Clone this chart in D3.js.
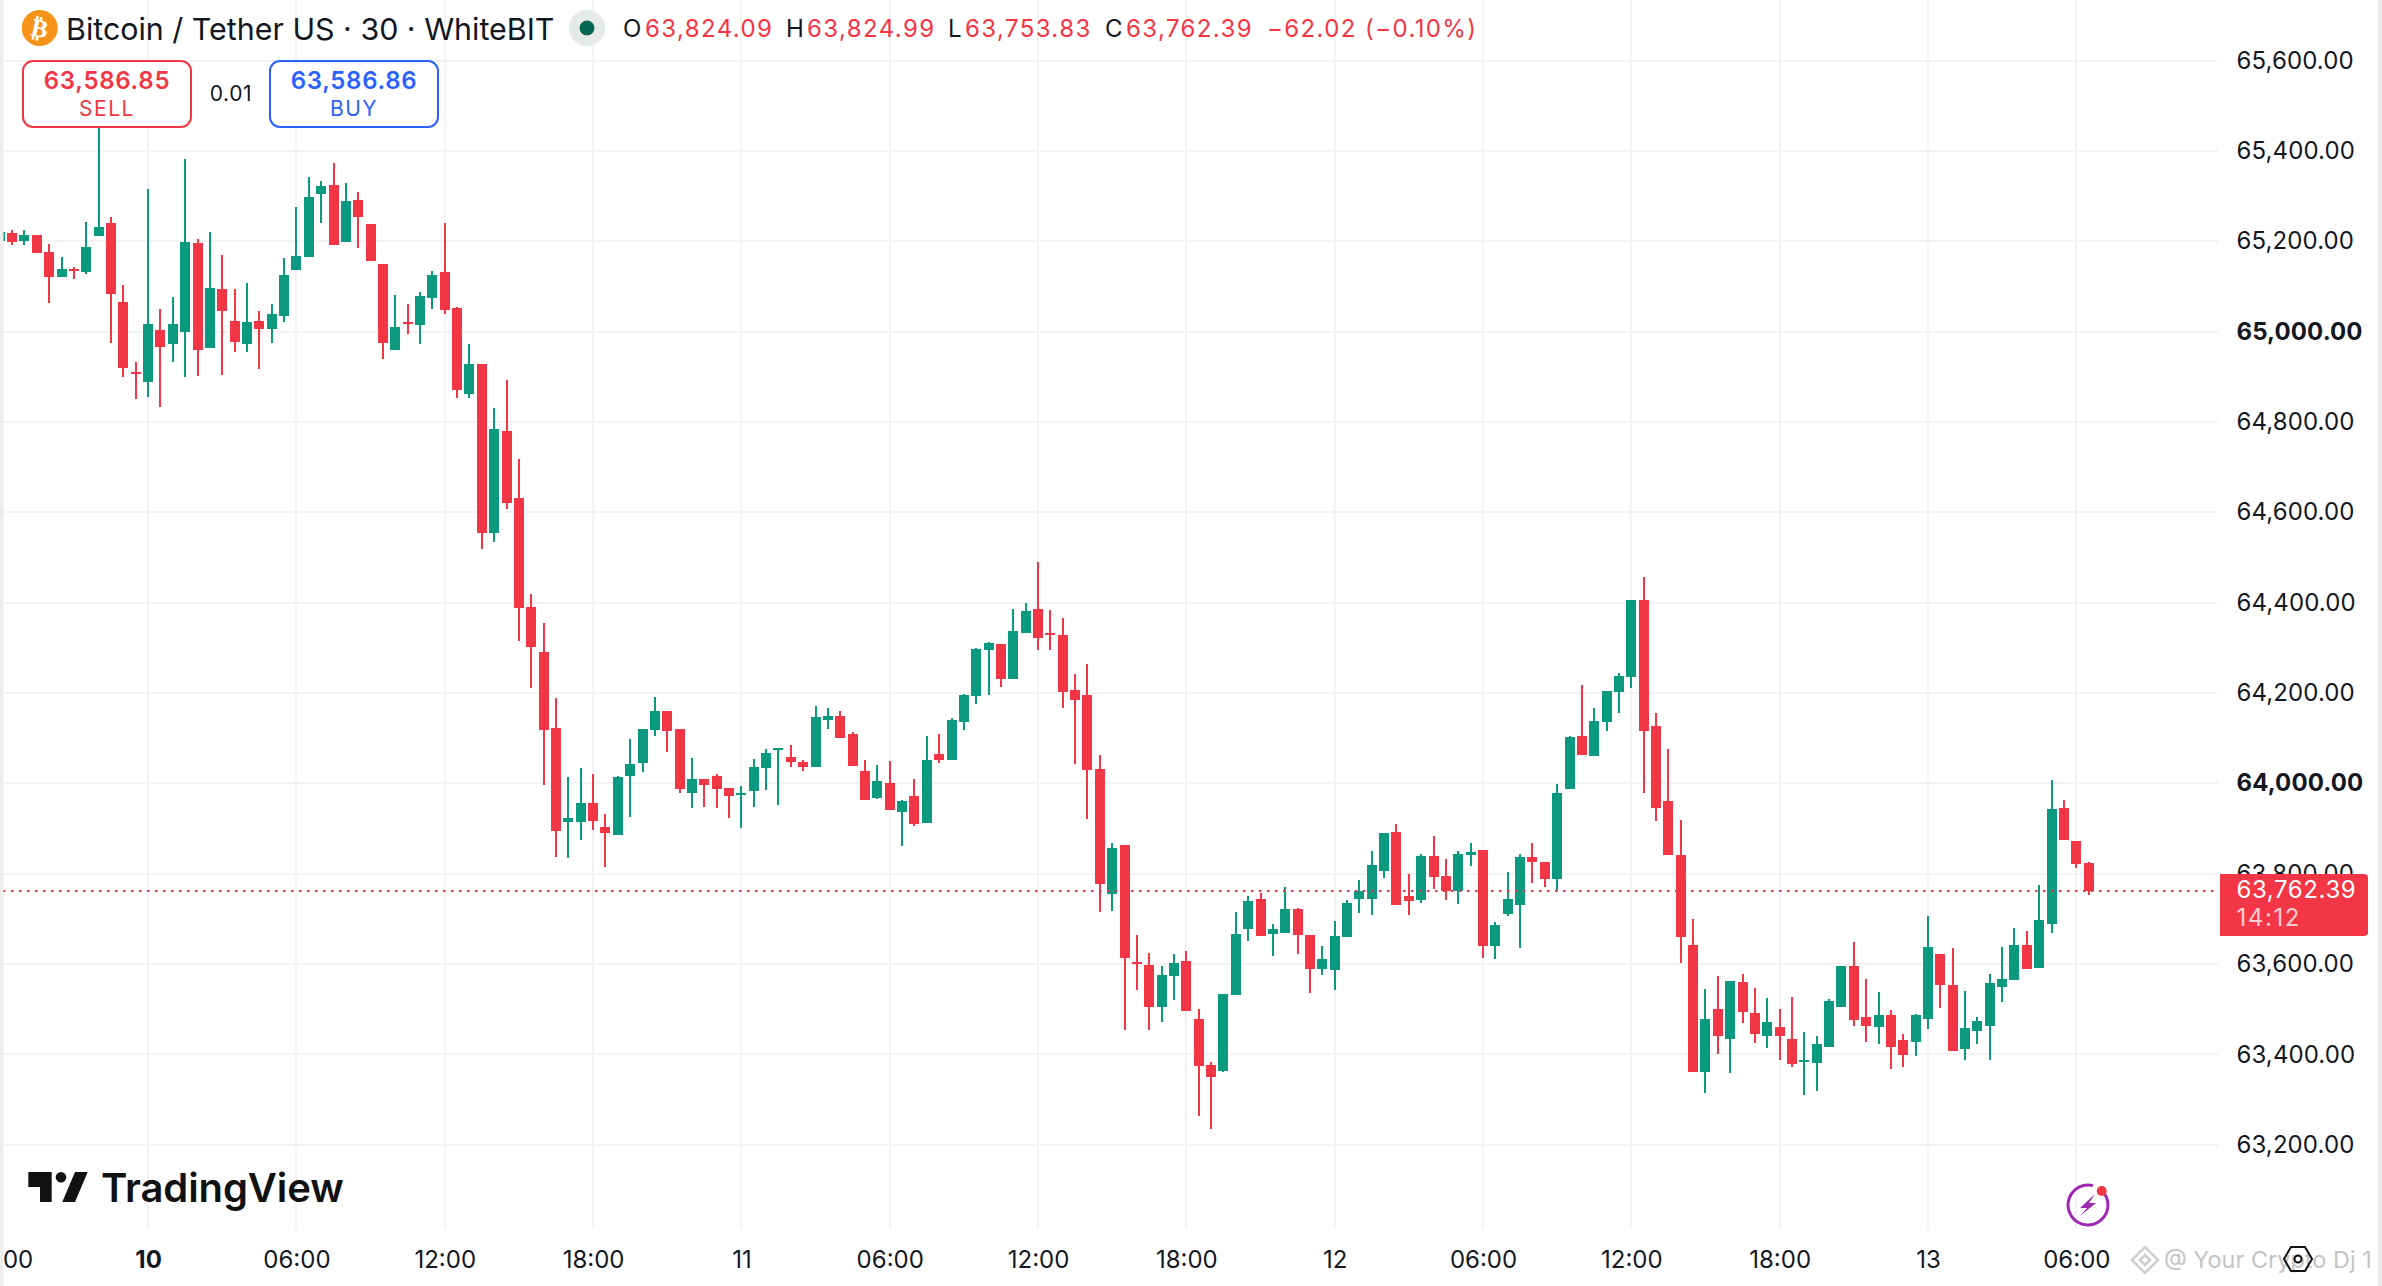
<!DOCTYPE html>
<html lang="en">
<head>
<meta charset="UTF-8">
<title>Bitcoin / Tether US 30 WhiteBIT</title>
<script src="https://d3js.org/d3.v7.min.js"></script>
<style>
    body { margin: 0; background: #fff; }
    svg { display: block; font-family: Inter, "Noto Sans", sans-serif; }
</style>
</head>
<body>
<div id="chart"></div>
<script>
// candle numbers: 0 is the 00:00 bar of the 10th, bars are 30 minutes
const candleNo = d3.range(-12, 158);

const opens = [
    65201,65218,65200,65214,65176,65121,65139,65132,65211,65240,65065,64910,
    64888,65003,64972,64999,65196,64964,65094,65023,64972,65023,65006,65034,
    65136,65165,65304,65324,65198,65291,65238,65150,64959,65022,65014,65074,
    65132,65052,64862,64928,64554,64780,64632,64390,64291,64122,63914,63914,
    63956,63903,63886,64016,64045,64118,64160,64120,63979,64010,64016,63990,
    63974,63983,64034,64074,64058,64047,64036,64140,64149,64109,64027,63967,
    64001,63936,63972,63912,64065,64052,64136,64193,64295,64308,64231,64333,
    64386,64333,64328,64207,64195,64032,63755,63863,63604,63598,63505,63573,
    63607,63478,63376,63363,63531,63678,63744,63666,63669,63722,63664,63589,
    63587,63660,63744,63744,63806,63892,63751,63742,63839,63795,63762,63841,
    63852,63640,63711,63731,63837,63826,63788,63988,64105,64060,64135,64202,
    64235,64406,64127,63961,63841,63642,63361,63501,63434,63560,63492,63440,
    63460,63434,63383,63381,63416,63505,63595,63482,63460,63487,63432,63427,
    63478,63622,63554,63412,63452,63463,63549,63565,63642,63591,63689,63946,
    63872,63824.09
];
const highs = [
    65221,65225,65225,65214,65194,65165,65143,65243,65457,65254,65103,64933,
    65316,65050,65076,65382,65205,65220,65169,65094,65107,65045,65061,65163,
    65276,65342,65333,65373,65329,65309,65238,65150,65081,65061,65088,65134,
    65240,65054,64972,64928,64831,64893,64718,64419,64355,64189,64014,64034,
    64021,63932,64016,64098,64120,64191,64160,64120,64056,64010,64021,63990,
    63994,64054,64076,64078,64085,64052,64171,64167,64160,64114,64052,64041,
    64049,63963,64010,64105,64109,64145,64198,64300,64313,64308,64386,64399,
    64490,64384,64366,64242,64264,64063,63868,63863,63664,63624,63596,63622,
    63629,63500,63383,63534,63715,63751,63757,63689,63770,63724,63664,63640,
    63695,63742,63786,63850,63890,63910,63799,63844,63883,63832,63850,63868,
    63852,63693,63804,63844,63868,63826,63998,64105,64218,64167,64204,64245,
    64406,64456,64156,64076,63919,63700,63545,63573,63562,63578,63547,63525,
    63501,63527,63449,63440,63523,63595,63648,63567,63538,63498,63445,63490,
    63706,63622,63636,63540,63482,63578,63637,63680,63673,63775,64007,63963,
    63872,63824.99
];
const lows = [
    65201,65192,65192,65174,65063,65121,65116,65127,65211,64975,64899,64851,
    64855,64833,64933,64899,64902,64964,64904,64955,64955,64917,64975,65021,
    65136,65165,65240,65192,65198,65185,65156,64939,64959,64995,64972,65050,
    65039,64853,64853,64519,64534,64607,64315,64211,63996,63837,63835,63874,
    63897,63815,63886,63925,64025,64105,64069,63979,63945,63948,63945,63923,
    63901,63948,63985,63952,64036,64027,64036,64120,64100,64038,63963,63965,
    63941,63861,63905,63912,64045,64052,64118,64176,64195,64213,64231,64333,
    64295,64295,64167,64043,63921,63715,63717,63454,63542,63454,63472,63520,
    63496,63264,63235,63361,63531,63651,63662,63618,63669,63622,63536,63576,
    63542,63660,63713,63709,63790,63731,63709,63735,63766,63742,63733,63817,
    63613,63611,63706,63635,63779,63770,63762,63988,64063,64060,64116,64156,
    64211,63979,63916,63841,63603,63361,63315,63401,63359,63470,63425,63414,
    63388,63372,63310,63319,63416,63505,63463,63427,63423,63368,63372,63396,
    63456,63503,63407,63388,63423,63388,63516,63565,63589,63591,63669,63875,
    63813,63753.83
];
const closes = [
    65221,65198,65214,65174,65121,65138,65136,65187,65231,65083,64919,64906,
    65017,64966,65017,65198,64959,65096,65045,64977,65021,65006,65039,65125,
    65167,65298,65322,65192,65289,65254,65156,64975,65010,65017,65079,65125,
    65048,64871,64928,64554,64784,64620,64388,64302,64118,63894,63923,63956,
    63917,63890,64014,64043,64120,64160,64116,63987,64010,63996,63987,63972,
    63979,64036,64067,64078,64047,64036,64147,64149,64100,64038,63963,64005,
    63941,63961,63910,64052,64052,64140,64195,64297,64311,64231,64337,64381,
    64322,64328,64202,64184,64029,63777,63857,63613,63600,63505,63576,63602,
    63496,63374,63350,63534,63666,63739,63662,63678,63722,63664,63589,63611,
    63662,63735,63762,63819,63890,63731,63739,63839,63793,63762,63844,63848,
    63640,63686,63744,63837,63826,63788,63979,64102,64063,64138,64204,64237,
    64406,64116,63946,63841,63659,63361,63478,63440,63562,63493,63445,63471,
    63440,63379,63388,63423,63518,63595,63476,63463,63487,63416,63399,63487,
    63637,63554,63407,63459,63474,63558,63567,63642,63589,63697,63943,63875,
    63822,63762.39
];

const priceTicks = [65600,65400,65200,65000,64800,64600,64400,64200,64000,63800,63600,63400,63200];
const boldPrices = [65000, 64000];
const timeTicks = [-12,0,12,24,36,48,60,72,84,96,108,120,132,144,156];
const timeLabels = ['18:00','10','06:00','12:00','18:00','11','06:00','12:00','18:00','12','06:00','12:00','18:00','13','06:00'];
const lastPrice = 63762.39;

const headerTitle = 'Bitcoin / Tether US · 30 · WhiteBIT';
const ohlcLabels = ['O', 'H', 'L', 'C'];
const ohlcValues = ['63,824.09', '63,824.99', '63,753.83', '63,762.39'];
const ohlcChange = '−62.02 (−0.10%)';

const RED = '#F23645', GREEN = '#0B9A80', BLUE = '#2962FF', GRID = '#F3F3F3', INK = '#131722';

const svg = d3.select('#chart').append('svg')
    .attr('width', 2382)
    .attr('height', 1286);

const x = d3.scaleLinear().domain([0, 156]).range([148.1, 2076.3]);
const y = d3.scaleLinear().domain([63200, 65600]).range([1144.7, 60.5]);

// grid
const grid = svg.append('g').attr('shape-rendering', 'crispEdges').attr('stroke', GRID).attr('stroke-width', 2);
grid.selectAll('.v').data(timeTicks).enter().append('line')
    .attr('x1', d => Math.round(x(d))).attr('x2', d => Math.round(x(d)))
    .attr('y1', 0).attr('y2', 1229);
grid.selectAll('.h').data(priceTicks).enter().append('line')
    .attr('x1', 3).attr('x2', 2218)
    .attr('y1', d => Math.round(y(d))).attr('y2', d => Math.round(y(d)));

// candles
const candles = svg.append('g').attr('shape-rendering', 'crispEdges');
const colour = i => closes[i] < opens[i] ? RED : GREEN;
candles.selectAll('.wick').data(candleNo).enter().append('rect')
    .attr('x', d => Math.round(x(d)) - 1)
    .attr('width', 2)
    .attr('y', (d, i) => y(highs[i]))
    .attr('height', (d, i) => y(lows[i]) - y(highs[i]))
    .attr('fill', (d, i) => colour(i));
candles.selectAll('.body').data(candleNo).enter().append('rect')
    .attr('x', d => Math.round(x(d)) - 5)
    .attr('width', 10)
    .attr('y', (d, i) => y(Math.max(opens[i], closes[i])))
    .attr('height', (d, i) => Math.max(2, Math.abs(y(opens[i]) - y(closes[i]))))
    .attr('fill', (d, i) => colour(i));

// last price line
svg.append('line')
    .attr('x1', 3).attr('x2', 2218)
    .attr('y1', Math.round(y(lastPrice))).attr('y2', Math.round(y(lastPrice)))
    .attr('stroke', RED).attr('stroke-width', 2).attr('stroke-dasharray', '2.5 5.5');

// price axis
const yAxis = svg.append('g')
    .attr('transform', 'translate(2236.5,0)')
    .call(d3.axisRight(y).tickValues(priceTicks).tickSize(0).tickPadding(0).tickFormat(d3.format(',.2f')));
yAxis.select('.domain').remove();
yAxis.selectAll('text')
    .attr('font-family', 'Inter, sans-serif')
    .attr('font-size', 24)
    .attr('letter-spacing', 0.1)
    .attr('fill', INK)
    .attr('font-weight', d => boldPrices.includes(d) ? 700 : 400);

// last price tag sits over the 63,800 label
svg.append('path')
    .attr('d', 'M2220,874H2364a4,4 0 0 1 4,4V932a4,4 0 0 1 -4,4H2220Z')
    .attr('fill', RED);
svg.append('text').attr('x', 2236.5).attr('y', 898).text(d3.format(',.2f')(lastPrice))
    .attr('font-size', 24).attr('letter-spacing', 0.6).attr('fill', '#fff');
svg.append('text').attr('x', 2236.5).attr('y', 926).text('14:12')
    .attr('font-size', 24).attr('letter-spacing', 1.6).attr('fill', '#fff').attr('fill-opacity', 0.75);

// time axis, its left end is cut by the frame
svg.append('clipPath').attr('id', 'time-clip').append('rect')
    .attr('x', 4).attr('y', 1230).attr('width', 2378).attr('height', 56);
const xAxis = svg.append('g')
    .attr('clip-path', 'url(#time-clip)')
    .append('g')
    .attr('transform', 'translate(0,1251)')
    .call(d3.axisBottom(x).tickValues(timeTicks).tickSize(0).tickPadding(0)
        .tickFormat(d => timeLabels[timeTicks.indexOf(d)]));
xAxis.select('.domain').remove();
xAxis.selectAll('text')
    .attr('font-family', 'Inter, sans-serif')
    .attr('font-size', 24)
    .attr('fill', INK)
    .attr('font-weight', d => d === 0 ? 700 : 400);
// the cut label ends a little further right in the picture
xAxis.selectAll('.tick').filter(d => d === -12).select('text').attr('dx', 2);

// frame
svg.append('rect').attr('x', 0).attr('y', 0).attr('width', 3.5).attr('height', 1286).attr('fill', '#EDEDED');
svg.append('rect').attr('x', 2378).attr('y', 0).attr('width', 4).attr('height', 1286).attr('fill', '#EDEDED');

// header
svg.append('circle').attr('cx', 39.7).attr('cy', 28).attr('r', 18).attr('fill', '#F7931A');
svg.append('text').attr('x', 39.7).attr('y', 37).attr('text-anchor', 'middle').text('₿')
    .attr('font-family', 'DejaVu Sans').attr('font-weight', 700).attr('font-size', 25).attr('fill', '#fff')
    .attr('transform', 'rotate(12 39.7 28)');
svg.append('text').attr('x', 66).attr('y', 40).text(headerTitle)
    .attr('font-size', 30.4).attr('fill', INK);
svg.append('ellipse').attr('cx', 587).attr('cy', 28).attr('rx', 18).attr('ry', 18).attr('fill', '#E6EBEA');
svg.append('circle').attr('cx', 587).attr('cy', 28).attr('r', 7.5).attr('fill', '#056656');

const ohlcLetterX = [623, 786, 948, 1105];
const ohlcValueX = [645, 807, 965, 1126];
ohlcLabels.forEach((d, i) => {
    svg.append('text').attr('x', ohlcLetterX[i]).attr('y', 37).text(d).attr('font-size', 24).attr('fill', INK);
    svg.append('text').attr('x', ohlcValueX[i]).attr('y', 37).text(ohlcValues[i])
        .attr('font-size', 24).attr('letter-spacing', 1.4).attr('fill', RED);
});
svg.append('text').attr('x', 1267).attr('y', 37).text(ohlcChange)
    .attr('font-size', 24).attr('letter-spacing', 1.4).attr('fill', RED);

// sell / buy boxes
const boxes = [
    { x: 23, w: 168, colour: RED, price: '63,586.85', side: 'SELL' },
    { x: 270, w: 168, colour: BLUE, price: '63,586.86', side: 'BUY' }
];
boxes.forEach(b => {
    svg.append('rect').attr('x', b.x).attr('y', 61).attr('width', b.w).attr('height', 66).attr('rx', 10)
        .attr('fill', '#fff').attr('stroke', b.colour).attr('stroke-width', 2);
    svg.append('text').attr('x', b.x + b.w / 2).attr('y', 89).attr('text-anchor', 'middle').text(b.price)
        .attr('font-size', 24).attr('font-weight', 600).attr('letter-spacing', 0.7).attr('fill', b.colour);
    svg.append('text').attr('x', b.x + b.w / 2).attr('y', 116).attr('text-anchor', 'middle').text(b.side)
        .attr('font-size', 21).attr('letter-spacing', 1.5).attr('fill', b.colour);
});
svg.append('text').attr('x', 231).attr('y', 101).attr('text-anchor', 'middle').text('0.01')
    .attr('font-size', 21).attr('letter-spacing', 0.6).attr('fill', INK);

// TradingView logo
const logo = svg.append('g').attr('fill', '#111');
logo.append('path').attr('d', 'M28.3,1172H51.7V1202H40V1187H28.3Z');
logo.append('circle').attr('cx', 61).attr('cy', 1177.3).attr('r', 5.3);
logo.append('path').attr('d', 'M75,1172H87.7L75,1202H62.3Z');
logo.append('text').attr('x', 101).attr('y', 1201.7).text('TradingView')
    .attr('font-size', 40).attr('font-weight', 600).attr('letter-spacing', -0.1);

// lightning badge
const badge = svg.append('g').attr('transform', 'translate(2088,1205)');
badge.append('path').attr('d', d3.arc()({ innerRadius: 18.5, outerRadius: 21.5, startAngle: 0.75, endAngle: 2 * Math.PI + 0.25 }))
    .attr('fill', '#9C27B0');
badge.append('path').attr('d', 'M7,-11L-8,3H-1L-8,11L8,-2H1Z').attr('fill', '#9C27B0');
badge.append('circle').attr('cx', 13.7).attr('cy', -14).attr('r', 5).attr('fill', RED);

// watermark
const mark = svg.append('g').attr('fill', 'none').attr('stroke', '#CFCFCF').attr('stroke-width', 2.5);
mark.append('path').attr('d', 'M2145,1247L2158,1260L2145,1273L2132,1260Z');
mark.append('path').attr('d', 'M2145,1255L2150,1260L2145,1265L2140,1260Z');
svg.append('text').attr('x', 2164).attr('y', 1268).text('@ Your Crypto Dj 1')
    .attr('font-size', 23.5).attr('fill', '#C4C4C4');

// small hexagon over the watermark
const hex = svg.append('g').attr('transform', 'translate(2298,1259)').attr('fill', 'none').attr('stroke', '#111').attr('stroke-width', 2);
hex.append('path').attr('d', 'M-14,0L-7,-12H7L14,0L7,12H-7Z');
hex.append('circle').attr('r', 3.5);
</script>
</body>
</html>
